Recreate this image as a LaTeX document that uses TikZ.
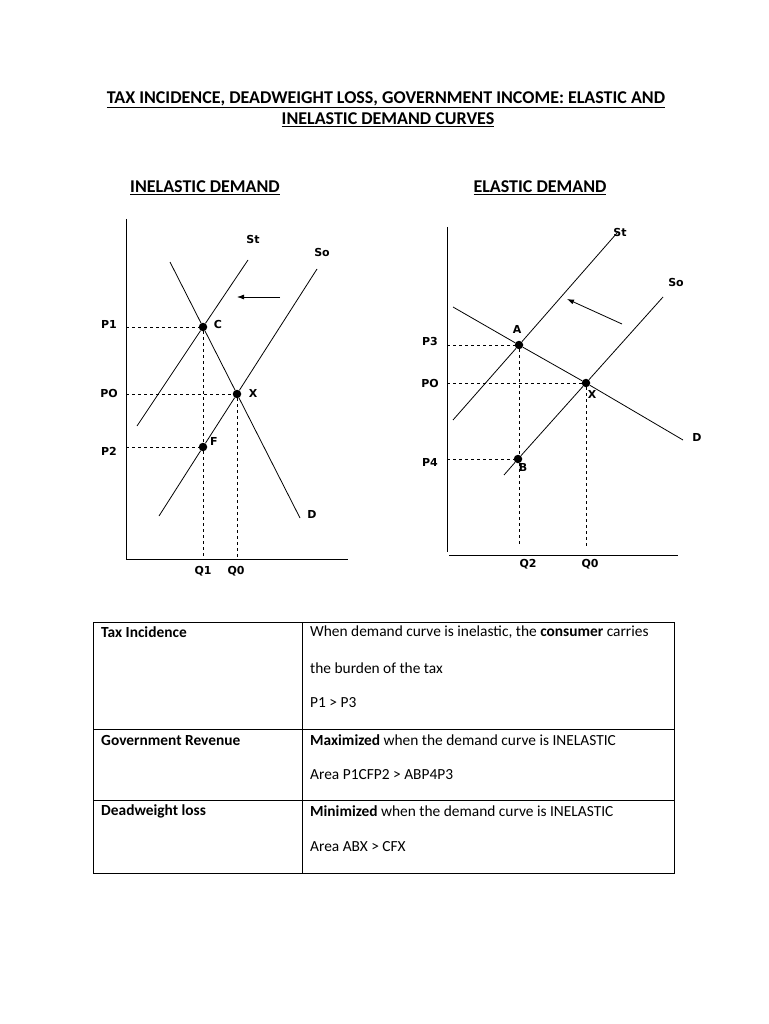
\documentclass[tikz,border=0pt]{standalone}
\usepackage{fontspec}
\setmainfont{Carlito}
\newfontfamily\graphfont{DejaVu Sans}
\usetikzlibrary{arrows.meta}

\begin{document}
\begin{tikzpicture}[x=1pt,y=-1pt,
  head/.style={font=\bfseries\fontsize{18}{21}\selectfont, inner sep=0pt},
  lbl/.style={font=\graphfont\bfseries\fontsize{11}{12}\selectfont, inner sep=0pt},
  cell/.style={font=\fontsize{15.4}{18}\selectfont, anchor=west, inner sep=0pt},
  curve/.style={line width=0.8pt},
  guide/.style={dashed, line width=0.7pt},
  dot/.style={circle, fill, inner sep=0pt, minimum size=8.5pt},
  arr/.style={-{Latex[length=7pt,width=5pt]}, line width=0.8pt}
]
\useasboundingbox[fill=white] (0,0) rectangle (768,1024);

% titles
\node[head] (title1) at (386,100) {\underline{TAX INCIDENCE, DEADWEIGHT LOSS, GOVERNMENT INCOME: ELASTIC AND}};
\node[head] (title2) at (388,120) {\underline{INELASTIC DEMAND CURVES}};
\node[head] (hinel) at (205,188) {\underline{INELASTIC DEMAND}};
\node[head] (hel) at (540,188) {\underline{ELASTIC DEMAND}};

% inelastic demand graph
\coordinate (oL) at (126,559);
\draw[curve] (126,219) -- (oL) -- (348,559);
\node[dot] (C) at (203,327) {};
\node[dot] (X) at (237,394) {};
\node[dot] (F) at (203,447) {};
\draw[curve] (137,426) -- (C) -- (248,260);
\draw[curve] (159,516) -- (F) -- (X) -- (317,269);
\draw[curve] (170,262) -- (C) -- (X) -- (300,518);
\draw[guide] (126,327) -- (C) -- (203,559);
\draw[guide] (126,394) -- (X) -- (237,559);
\draw[guide] (126,447) -- (F);
\coordinate (shiftL) at (280,297);
\coordinate (shiftLend) at (237,297);
\draw[arr] (shiftL) -- (shiftLend);
\node[lbl] (p1) at (109,324) {P1};
\node[lbl] (p0l) at (109,393) {PO};
\node[lbl] (p2) at (109,451) {P2};
\node[lbl] (q1) at (203,571) {Q1};
\node[lbl] (q0l) at (236,571) {Q0};
\node[lbl] (lc) at (218,324) {C};
\node[lbl] (lx) at (253,393) {X};
\node[lbl] (lf) at (214,441) {F};
\node[lbl] (stl) at (253,239) {St};
\node[lbl] (sol) at (322,252) {So};
\node[lbl] (dl) at (312,514) {D};

% elastic demand graph
\draw[curve] (447,227) -- (447,552);
\draw[curve] (449,555) -- (678,555);
\node[dot] (A) at (519,345) {};
\node[dot] (X2) at (586,383) {};
\node[dot] (B) at (518,459) {};
\draw[curve] (453,307) -- (A) -- (X2) -- (683,440);
\draw[curve] (453,420) -- (A) -- (617,233);
\draw[curve] (504,475) -- (B) -- (X2) -- (663,297);
\draw[guide] (447,345) -- (A) -- (519,547);
\draw[guide] (447,383) -- (X2) -- (586,547);
\draw[guide] (447,459) -- (B);
\coordinate (shiftR) at (622,324);
\coordinate (shiftRend) at (567,299);
\draw[arr] (shiftR) -- (shiftRend);
\node[lbl] (p3) at (430,341) {P3};
\node[lbl] (p0r) at (430,383) {PO};
\node[lbl] (p4) at (430,462) {P4};
\node[lbl] (la) at (517,329) {A};
\node[lbl] (lx2) at (592,394) {X};
\node[lbl] (lb) at (523,467) {B};
\node[lbl] (dr) at (697,437) {D};
\node[lbl] (str) at (620,232) {St};
\node[lbl] (sor) at (676,282) {So};
\node[lbl] (q2) at (528,564) {Q2};
\node[lbl] (q0r) at (590,564) {Q0};

% summary table
\draw[line width=0.8pt] (93,622) rectangle (674,873);
\draw[line width=0.8pt] (302,622) -- (302,873);
\draw[line width=0.8pt] (93,729) -- (674,729);
\draw[line width=0.8pt] (93,800) -- (674,800);
\node[cell] (t1) at (101,632) {\textbf{Tax Incidence}};
\node[cell] (t1a) at (310,632) {When demand curve is inelastic, the \textbf{consumer} carries};
\node[cell] (t1b) at (310,668) {the burden of the tax};
\node[cell] (t1c) at (310,703) {P1 > P3};
\node[cell] (t2) at (101,740) {\textbf{Government Revenue}};
\node[cell] (t2a) at (310,740) {\textbf{Maximized} when the demand curve is INELASTIC};
\node[cell] (t2b) at (310,775) {Area P1CFP2 > ABP4P3};
\node[cell] (t3) at (101,811) {\textbf{Deadweight loss}};
\node[cell] (t3a) at (310,811) {\textbf{Minimized} when the demand curve is INELASTIC};
\node[cell] (t3b) at (310,847) {Area ABX > CFX};
\end{tikzpicture}
\end{document}
